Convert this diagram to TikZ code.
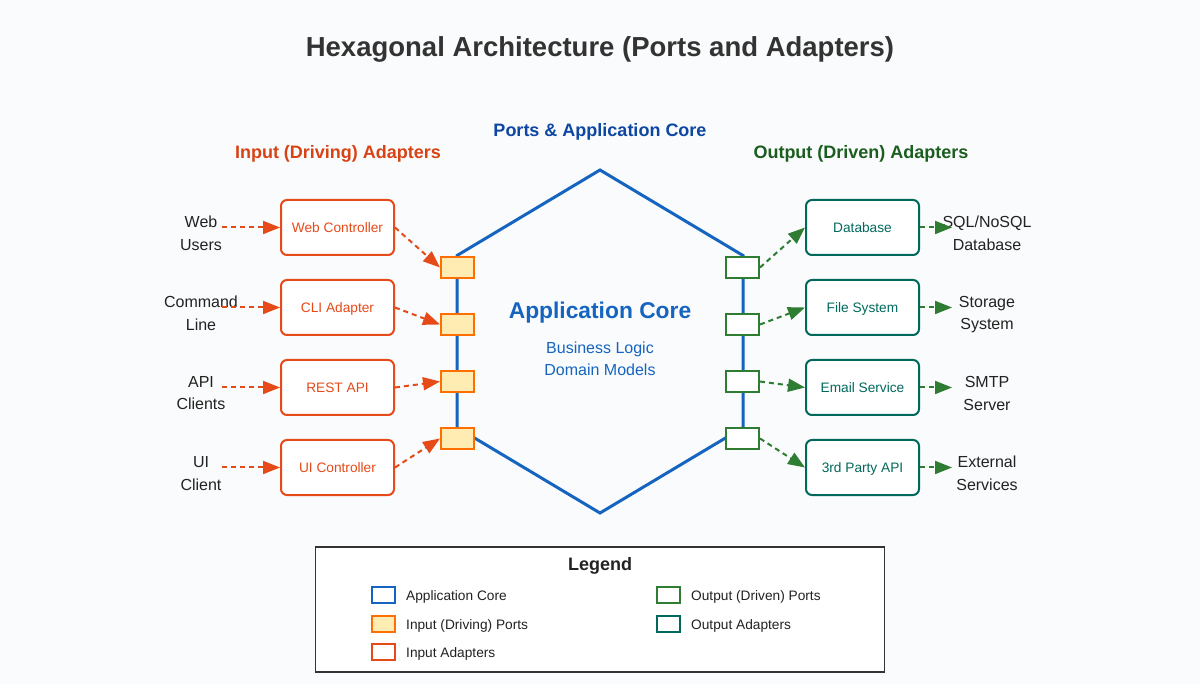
\documentclass[tikz,border=0pt]{standalone}
\usepackage{fontspec}
\setmainfont{Liberation Sans}
\usetikzlibrary{arrows.meta}
\definecolor{bgc}{RGB}{250,251,252}
\definecolor{titlec}{RGB}{51,51,51}
\definecolor{hexc}{RGB}{21,101,192}
\definecolor{portshc}{RGB}{13,71,161}
\definecolor{inadc}{RGB}{230,74,25}
\definecolor{inhc}{RGB}{216,67,21}
\definecolor{inportc}{RGB}{255,111,0}
\definecolor{inportfill}{RGB}{255,236,179}
\definecolor{outportc}{RGB}{46,125,50}
\definecolor{outadc}{RGB}{0,105,92}
\definecolor{outhc}{RGB}{27,94,32}
\definecolor{txtc}{RGB}{34,34,34}
\definecolor{legbord}{RGB}{51,51,51}
\begin{document}
\begin{tikzpicture}[x=1pt,y=-1pt,
  inadapter/.style={draw=inadc, line width=2pt, fill=white, rounded corners=6pt,
    minimum width=113pt, minimum height=55pt, inner sep=0pt, text=inadc,
    text height=9.8pt, text depth=0pt, font=\fontsize{13.7}{16}\selectfont},
  outadapter/.style={draw=outadc, line width=2pt, fill=white, rounded corners=6pt,
    minimum width=113pt, minimum height=55pt, inner sep=0pt, text=outadc,
    text height=9.8pt, text depth=0pt, font=\fontsize{13.7}{16}\selectfont},
  inport/.style={draw=inportc, fill=inportfill, line width=2pt,
    minimum width=33pt, minimum height=21pt, inner sep=0pt},
  outport/.style={draw=outportc, fill=white, line width=2pt,
    minimum width=33pt, minimum height=21pt, inner sep=0pt},
  extlabel/.style={text=txtc, align=center, inner sep=0pt, font=\fontsize{16}{22.5}\selectfont},
  inflow/.style={draw=inadc, line width=2pt, dash pattern=on 5pt off 4pt,
    -{Triangle[length=17pt,width=13pt]}},
  outflow/.style={draw=outportc, line width=2pt, dash pattern=on 5pt off 4pt,
    -{Triangle[length=17pt,width=13pt]}},
  legsw/.style={line width=2pt, minimum width=23pt, minimum height=16pt, inner sep=0pt},
  legtxt/.style={anchor=base west, inner sep=0pt, text=txtc, font=\fontsize{13.7}{16}\selectfont},
  header/.style={anchor=base, inner sep=0pt, font=\fontsize{18}{22}\selectfont\bfseries},
]
\fill[bgc] (0,0) rectangle (1200,684);
\useasboundingbox (0,0) rectangle (1200,684);

% title and headers
\node[anchor=base, inner sep=0pt, text=titlec, font=\fontsize{27.5}{32}\selectfont\bfseries] (title) at (600,57)
  {Hexagonal Architecture (Ports and Adapters)};
\node[header, text=portshc] (hcore) at (600,136.5) {Ports \& Application Core};
\node[header, text=inhc] (hin) at (338,159) {Input (Driving) Adapters};
\node[header, text=outhc] (hout) at (861,159) {Output (Driven) Adapters};

% hexagon
\draw[hexc, line width=3pt, line join=miter]
  (600,170) -- (743,255.5) -- (743,427.5) -- (600,513) -- (457,427.5) -- (457,255.5) -- cycle;

% core text
\node[anchor=base, inner sep=0pt, text=hexc, font=\fontsize{22.8}{26}\selectfont\bfseries] (core) at (600,319) {Application Core};
\node[anchor=base, inner sep=0pt, text=hexc, font=\fontsize{16}{22}\selectfont] (bl) at (600,353.5) {Business Logic};
\node[anchor=base, inner sep=0pt, text=hexc, font=\fontsize{16}{22}\selectfont] (dm) at (600,375.5) {Domain Models};

% ports
\node[inport] (ip1) at (457.5,267.5) {};
\node[inport] (ip2) at (457.5,324.5) {};
\node[inport] (ip3) at (457.5,381.5) {};
\node[inport] (ip4) at (457.5,438.5) {};
\node[outport] (op1) at (742.5,267.5) {};
\node[outport] (op2) at (742.5,324.5) {};
\node[outport] (op3) at (742.5,381.5) {};
\node[outport] (op4) at (742.5,438.5) {};

% input adapters
\node[inadapter] (wc)  at (337.5,227.5) {Web Controller};
\node[inadapter] (cli) at (337.5,307.5) {CLI Adapter};
\node[inadapter] (rest) at (337.5,387.5) {REST API};
\node[inadapter] (uic) at (337.5,467.5) {UI Controller};

% output adapters
\node[outadapter] (db)  at (862.5,227.5) {Database};
\node[outadapter] (fs)  at (862.5,307.5) {File System};
\node[outadapter] (em)  at (862.5,387.5) {Email Service};
\node[outadapter] (tp)  at (862.5,467.5) {3rd Party API};

% external actors (left)
\node[extlabel] (l1) at (201,233.5) {Web\\Users};
\node[extlabel] (l2) at (201,313.5) {Command\\Line};
\node[extlabel] (l3) at (201,393) {API\\Clients};
\node[extlabel] (l4) at (201,473.5) {UI\\Client};
% external systems (right)
\node[extlabel] (r1) at (987,233.5) {SQL/NoSQL\\Database};
\node[extlabel] (r2) at (987,314.5) {Storage\\System};
\node[extlabel] (r3) at (987,393.5) {SMTP\\Server};
\node[extlabel] (r4) at (987,473.5) {External\\Services};

\coordinate (s1) at (222,227.5);
\coordinate (s2) at (222,307.5);
\coordinate (s3) at (222,387.5);
\coordinate (s4) at (222,467.5);
\coordinate (e1) at (952,227.5);
\coordinate (e2) at (952,307.5);
\coordinate (e3) at (952,387.5);
\coordinate (e4) at (952,467.5);

\draw[inflow] (s1) -- (wc.west);
\draw[inflow] (s2) -- (cli.west);
\draw[inflow] (s3) -- (rest.west);
\draw[inflow] (s4) -- (uic.west);

\draw[inflow] (wc.east) -- (ip1.west);
\draw[inflow] (cli.east) -- (ip2.west);
\draw[inflow] (rest.east) -- (ip3.west);
\draw[inflow] (uic.east) -- (ip4.west);

\draw[outflow] (op1.east) -- (db.west);
\draw[outflow] (op2.east) -- (fs.west);
\draw[outflow] (op3.east) -- (em.west);
\draw[outflow] (op4.east) -- (tp.west);

\draw[outflow] (db.east) -- (e1);
\draw[outflow] (fs.east) -- (e2);
\draw[outflow] (em.east) -- (e3);
\draw[outflow] (tp.east) -- (e4);

% legend
\node[draw=legbord, fill=white, line width=1.2pt, minimum width=569pt, minimum height=125pt,
  inner sep=0pt] (legend) at (600,609.5) {};
\node[anchor=base, inner sep=0pt, text=txtc, font=\fontsize{18}{22}\selectfont\bfseries] (legt) at (600,570.5) {Legend};
\node[legsw, draw=hexc, fill=white] (sw1) at (383.5,595) {};
\node[legsw, draw=inportc, fill=inportfill] (sw2) at (383.5,624) {};
\node[legsw, draw=inadc, fill=white] (sw3) at (383.5,652) {};
\node[legsw, draw=outportc, fill=white] (sw4) at (668.5,595) {};
\node[legsw, draw=outadc, fill=white] (sw5) at (668.5,624) {};
\node[legtxt] (lt1) at (406,600) {Application Core};
\node[legtxt] (lt2) at (406,629) {Input (Driving) Ports};
\node[legtxt] (lt3) at (406,657) {Input Adapters};
\node[legtxt] (lt4) at (691,600) {Output (Driven) Ports};
\node[legtxt] (lt5) at (691,629) {Output Adapters};
\end{tikzpicture}
\end{document}
